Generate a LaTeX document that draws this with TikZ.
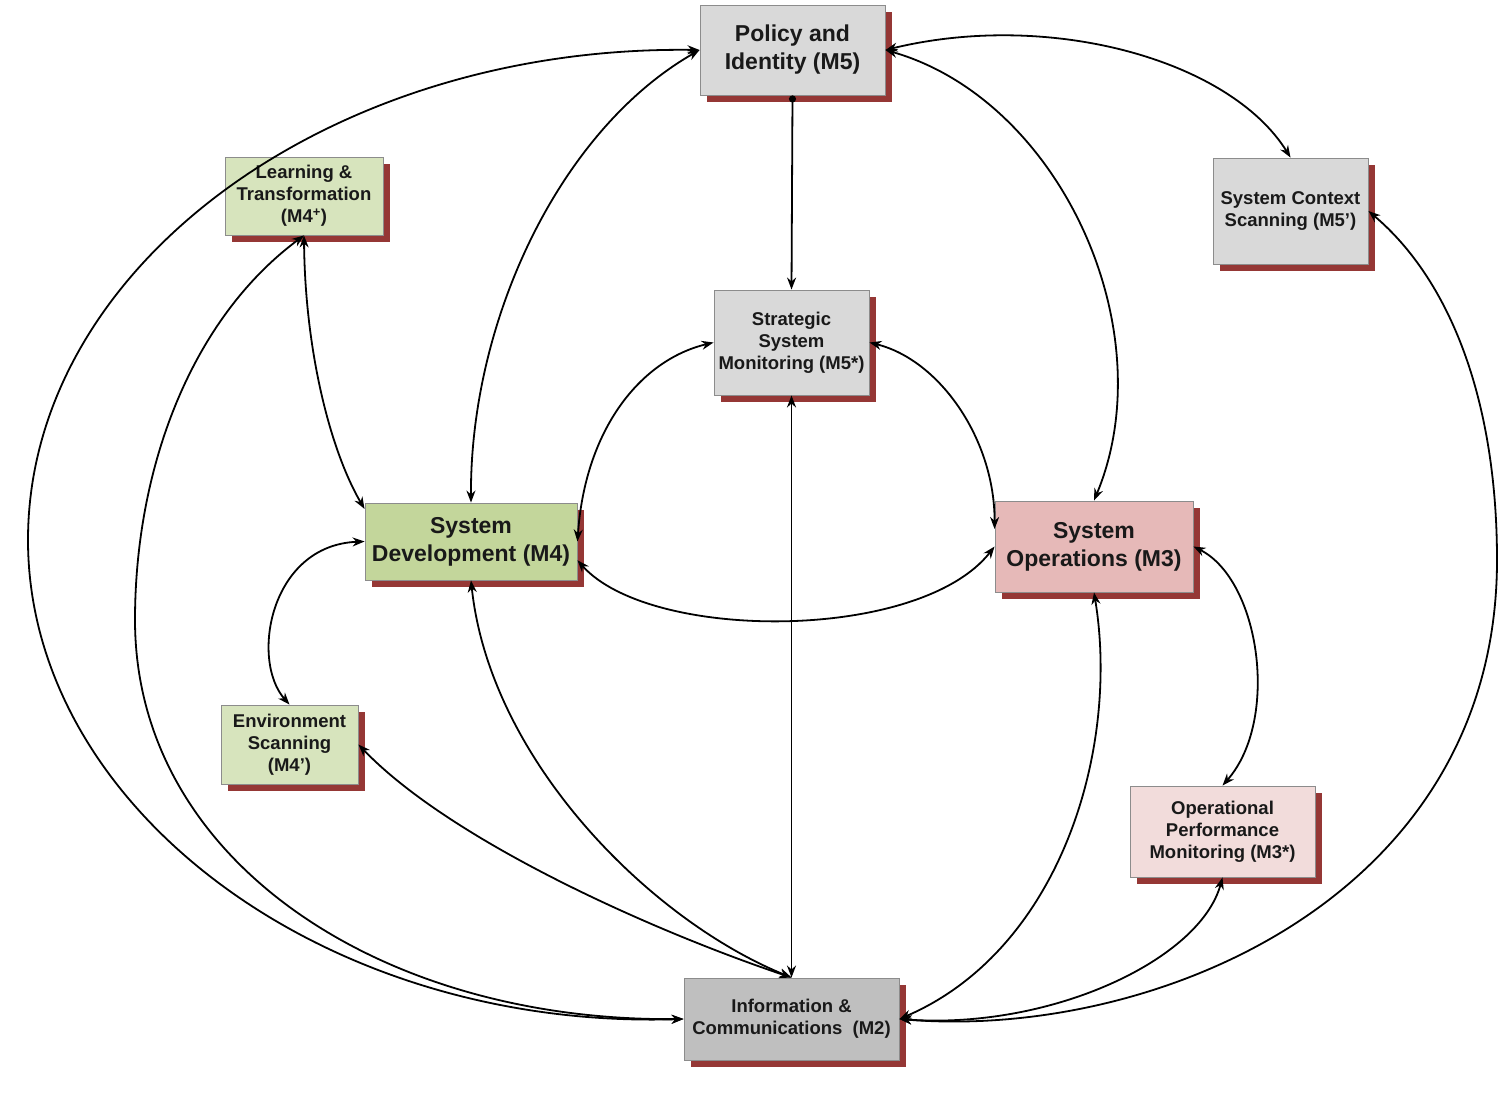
\documentclass[tikz,border=0pt]{standalone}
\usepackage{fontspec}
\setmainfont{Liberation Sans}
\usetikzlibrary{arrows.meta,shadows,calc}
\definecolor{grayA}{HTML}{D9D9D9}
\definecolor{grayB}{HTML}{BFBFBF}
\definecolor{greenL}{HTML}{D7E4BD}
\definecolor{greenD}{HTML}{C3D69B}
\definecolor{pinkD}{HTML}{E6B9B8}
\definecolor{pinkL}{HTML}{F2DCDB}
\definecolor{shadowred}{HTML}{953735}
\definecolor{edgegray}{HTML}{8C8C8C}
\tikzset{
  box/.style={draw=edgegray, line width=0.9pt, inner sep=2pt, align=center,
    font=\bfseries, text=black!90,
    general shadow={fill=shadowred, shadow xshift=7pt, shadow yshift=-7pt}},
  bigtxt/.style={font=\fontsize{23}{28}\selectfont\bfseries},
  smalltxt/.style={font=\fontsize{18.5}{22}\selectfont\bfseries},
  conn/.style={line width=1.8pt, {Stealth[length=12pt,width=9pt]}-{Stealth[length=12pt,width=9pt]}},
}
\begin{document}
\begin{tikzpicture}[x=1pt,y=-1pt]
\useasboundingbox (0,0) rectangle (1510,1105);
% nodes
\node[box,bigtxt,fill=grayA,minimum width=185pt,minimum height=90pt] (P) at (792.5,50) {Policy and\\Identity (M5)};
\node[box,smalltxt,fill=greenL,minimum width=158pt,minimum height=78pt] (L) at (304,196) {Learning \&\\Transformation\\(M4\textsuperscript{+})};
\node[box,smalltxt,fill=grayA,minimum width=155pt,minimum height=106pt] (SC) at (1290.5,211) {System Context\\Scanning (M5')};
\node[box,smalltxt,fill=grayA,minimum width=155pt,minimum height=105pt] (ST) at (791.5,342.5) {Strategic\\System\\Monitoring (M5*)};
\node[box,bigtxt,fill=greenD,minimum width=212pt,minimum height=77pt] (SD) at (471,541.5) {System\\Development (M4)};
\node[box,bigtxt,fill=pinkD,minimum width=198pt,minimum height=91pt] (SO) at (1094,546.5) {System\\Operations (M3)};
\node[box,smalltxt,fill=greenL,minimum width=137pt,minimum height=79pt] (ES) at (289.5,744.5) {Environment\\Scanning\\(M4')};
\node[box,smalltxt,fill=pinkL,minimum width=185pt,minimum height=91pt] (OP) at (1222.5,831.5) {Operational\\Performance\\Monitoring (M3*)};
\node[box,smalltxt,fill=grayB,minimum width=215pt,minimum height=82pt] (I) at (791.5,1019) {Information \&\\Communications~~(M2)};
% connectors
% outer left arc
\draw[conn] (P.west) .. controls (329,45) and (28,267) .. (28,540) .. controls (28,806) and (322,1030) .. (I.west);
% inner left arc from Learning
\draw[conn] (L.south) .. controls (190,320) and (135,470) .. (135,620) .. controls (135,860) and (380,1022) .. (I.west);
% Policy to SysDev
\draw[conn] (P.west) .. controls (560,130) and (470,320) .. (SD.north);
% Policy to Strategic
\draw[line width=1.8pt, {Circle[length=7pt]}-{Stealth[length=12pt,width=9pt]}] (P.south) -- (ST.north);
% Policy to System Context
\draw[conn] (P.east) .. controls (1050,10) and (1230,60) .. (SC.north);
% Policy to SysOps
\draw[conn] (P.east) .. controls (1060,100) and (1165,330) .. (SO.north);
% Learning to SysDev
\draw[conn] (L.south) .. controls (305,350) and (330,450) .. (SD.163);
% SysDev to EnvScan
\draw[conn] (SD.west) .. controls (270,545) and (250,660) .. (ES.north);
% SysDev to Info
\draw[conn] (SD.south) .. controls (490,760) and (650,920) .. (I.north);
% EnvScan to Info
\draw[conn] (ES.east) .. controls (450,840) and (650,930) .. (I.north);
% SysDev to Strategic
\draw[conn] (SD.east) .. controls (585,430) and (640,360) .. (ST.west);
% SysDev to SysOps
\draw[conn] (SD.-10) .. controls (650,642) and (920,642) .. (SO.west);
% Strategic to Info
\draw[conn] (ST.south) -- (I.north);
% Strategic to SysOps
\draw[conn] (ST.east) .. controls (940,360) and (995,440) .. (SO.170);
% SysOps to OpPerf
\draw[conn] (SO.east) .. controls (1260,580) and (1280,720) .. (OP.north);
% SysOps to Info
\draw[conn] (SO.south) .. controls (1120,750) and (1060,950) .. (I.east);
% OpPerf to Info
\draw[conn] (OP.south) .. controls (1200,960) and (1050,1030) .. (I.east);
% SysContext to Info
\draw[conn] (SC.east) .. controls (1450,280) and (1497,400) .. (1497,560) .. controls (1497,900) and (1150,1040) .. (I.east);
\end{tikzpicture}
\end{document}
